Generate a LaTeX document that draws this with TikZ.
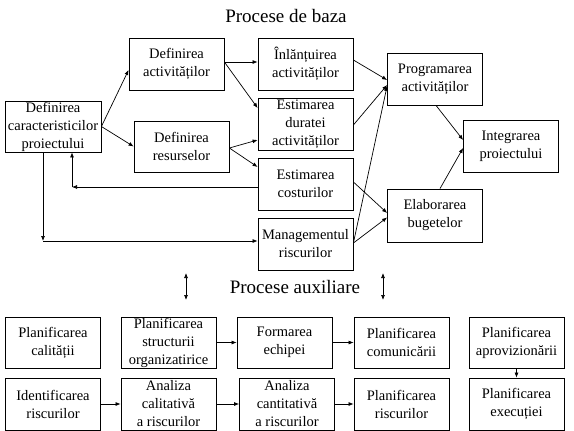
\documentclass[tikz,border=0pt]{standalone}
\usepackage{fontspec}
\setmainfont{Liberation Serif}
\usetikzlibrary{arrows.meta}

\tikzset{
  proc/.style={draw, line width=0.8pt, minimum width=95pt, minimum height=52pt,
    inner sep=0pt, align=center, font=\fontsize{14.5}{18}\selectfont},
  arr/.style={line width=0.7pt, -{Latex[length=5pt,width=4pt]}},
  dblarr/.style={line width=0.7pt, {Latex[length=5pt,width=4pt]}-{Latex[length=5pt,width=4pt]}},
  titlu/.style={font=\fontsize{19}{22}\selectfont}
}

\begin{document}
\begin{tikzpicture}[x=1pt,y=-1pt]
    \useasboundingbox (0,0) rectangle (574,431);

    % procese de baza
    \node[titlu] (tbaza) at (286,16) {Procese de baza};
    \node[proc, minimum width=96pt, minimum height=51pt] (defcar) at (53,126.5)
      {Definirea\\caracteristicilor\\proiectului};
    \node[proc] (defact) at (176.5,64) {Definirea\\activităților};
    \node[proc, minimum height=51pt] (defres) at (181.5,146.5) {Definirea\\resurselor};
    \node[proc] (inlant) at (305.5,64) {Înlănțuirea\\activităților};
    \node[proc] (estdur) at (305.5,124) {Estimarea\\duratei\\activităților};
    \node[proc] (estcost) at (305.5,184) {Estimarea\\costurilor};
    \node[proc] (mgmt) at (305.5,244) {Managementul\\riscurilor};
    \node[proc] (program) at (435,79) {Programarea\\activităților};
    \node[proc] (integ) at (511,146) {Integrarea\\proiectului};
    \node[proc, minimum height=53pt] (elab) at (435,215.5) {Elaborarea\\bugetelor};

    \draw[arr] (defcar.east) -- ([yshift=-6pt]defact.west);
    \draw[arr] (defcar.east) -- (defres.west);
    \draw[arr] ([yshift=2pt]defact.east) -- ([yshift=2pt]inlant.west);
    \draw[arr] ([yshift=2pt]defact.east) -- ([yshift=16pt]estdur.west);
    \draw[arr] ([yshift=-1.5pt]defres.east) -- ([yshift=-16pt]estdur.west);
    \draw[arr] ([yshift=-1.5pt]defres.east) -- ([yshift=17pt]estcost.west);
    \coordinate (revcar) at (72,187);
    \draw[arr] ([yshift=-3pt]estcost.west) -- (revcar);
    \draw[arr] (revcar) -- (revcar |- defcar.south);
    \coordinate (colrisc) at (43,241);
    \draw[arr] (colrisc |- defcar.south) -- (colrisc);
    \draw[arr] (colrisc) -- (colrisc -| mgmt.west);
    \draw[arr] ([yshift=4pt]inlant.east) -- ([yshift=-1pt]program.west);
    \draw[arr] ([yshift=-1pt]estdur.east) -- ([yshift=-6pt]program.west);
    \draw[arr] ([yshift=2pt]estcost.east) -- ([yshift=2.5pt]elab.west);
    \draw[arr] ([yshift=1pt]mgmt.east) -- ([yshift=-7pt]program.west);
    \draw[arr] ([yshift=1pt]mgmt.east) -- ([yshift=-2pt]elab.west);
    \draw[arr] ([xshift=1pt]program.south) -- ([yshift=6pt]integ.west);
    \draw[arr] ([xshift=5pt]elab.north) -- ([yshift=-2pt]integ.west);

    % legatura intre cele doua grupe
    \coordinate (sus1) at (186,273);
    \coordinate (jos1) at (186,300);
    \coordinate (sus2) at (383,273);
    \coordinate (jos2) at (383,300);
    \draw[dblarr] (sus1) -- (jos1);
    \draw[dblarr] (sus2) -- (jos2);

    % procese auxiliare
    \node[titlu] (taux) at (295,287) {Procese auxiliare};
    \node[proc, minimum height=51pt] (calit) at (53,342.5) {Planificarea\\calității};
    \node[proc, minimum height=51pt] (struct) at (168.5,342.5)
      {Planificarea\\structurii\\organizatirice};
    \node[proc, minimum height=51pt] (formare) at (284.5,342.5) {Formarea\\echipei};
    \node[proc, minimum height=51pt] (comun) at (401.5,342.5) {Planificarea\\comunicării};
    \node[proc, minimum height=51pt] (aprov) at (516.5,342.5)
      {Planificarea\\aprovizionării};
    \node[proc] (ident) at (53,404) {Identificarea\\riscurilor};
    \node[proc] (analcal) at (168.5,404) {Analiza\\calitativă\\a riscurilor};
    \node[proc] (analcant) at (287,404) {Analiza\\cantitativă\\a riscurilor};
    \node[proc] (planrisc) at (401.5,404) {Planificarea\\riscurilor};
    \node[proc] (exec) at (516.5,404) {Planificarea\\execuției};

    \draw[arr] (struct.east) -- (formare.west);
    \draw[arr] (formare.east) -- (comun.west);
    \draw[arr] (ident.east) -- (analcal.west);
    \draw[arr] (analcal.east) -- (analcant.west);
    \draw[arr] (analcant.east) -- (planrisc.west);
    \draw[arr] (aprov.south) -- (exec.north);
\end{tikzpicture}
\end{document}
